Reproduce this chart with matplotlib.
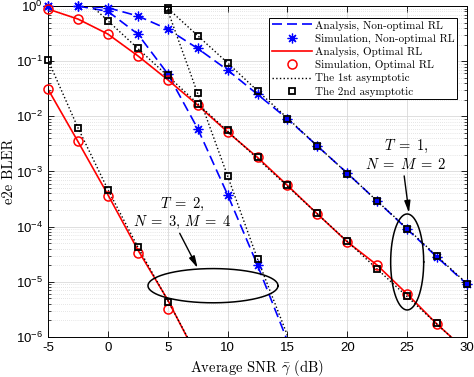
import numpy as np
import matplotlib
matplotlib.use("Agg")
import matplotlib.pyplot as plt
from matplotlib.ticker import FuncFormatter, LogLocator, NullFormatter
from matplotlib.lines import Line2D

plt.rcParams['font.family'] = 'Liberation Sans'
plt.rcParams['mathtext.fontset'] = 'cm'
plt.rcParams['axes.unicode_minus'] = False

# SNR grid (dB)
snr = [-5, -2.5, 0, 2.5, 5, 7.5, 10, 12.5, 15, 17.5, 20, 22.5, 25, 27.5, 30]

# T=1, N=M=2, non-optimal RL (analysis & simulation)
nonopt1 = [1.0, 1.0, 0.93, 0.66, 0.38, 0.17, 6.9e-2, 2.5e-2, 9.0e-3, 2.9e-3,
           9.3e-4, 2.9e-4, 9.0e-5, 2.8e-5, 9.0e-6]
# T=2, N=3, M=4, non-optimal RL
nonopt2_ana = [1.0, 1.0, 0.8, 0.31, 5.9e-2, 6.0e-3, 3.8e-4, 2.0e-5, 8.5e-7]
nonopt2_sim = [1.0, 1.0, 0.8, 0.31, 5.9e-2, 6.0e-3, 3.8e-4, 2.0e-5]
# T=1, optimal RL
opt1_ana = [0.88, 0.58, 0.31, 0.125, 4.6e-2, 1.6e-2, 5.2e-3, 1.8e-3, 5.6e-4,
            1.7e-4, 5.3e-5, 2.0e-5, 6.0e-6, 1.7e-6, 5.5e-7]
opt1_sim = opt1_ana[:14]
# T=2, optimal RL
opt2_ana = [3.1e-2, 3.5e-3, 3.8e-4, 3.8e-5, 4.7e-6, 4.2e-7]
opt2_sim = [3.1e-2, 3.5e-3, 3.6e-4, 3.3e-5, 3.2e-6]

# 1st asymptotic (dotted)
a1_opt1 = [1.7, 0.54, 0.17, 5.4e-2, 1.7e-2, 5.4e-3, 1.7e-3, 5.4e-4, 1.7e-4,
           5.4e-5, 1.7e-5, 5.4e-6, 1.7e-6, 5.4e-7]          # from -2.5 dB
a1_nonopt1 = [2.9, 0.91, 0.29, 9.3e-2, 2.9e-2, 9.3e-3, 2.9e-3, 9.3e-4, 2.9e-4,
              9.3e-5, 2.9e-5, 9.3e-6]                        # from 2.5 dB
a1_nonopt2 = [26.0, 0.83, 2.6e-2, 8.3e-4, 2.6e-5, 1.07e-6]   # from 2.5 dB
a1_opt2 = [0.105, 6.2e-3, 4.7e-4, 4.3e-5, 4.6e-6, 4.5e-7]    # from -5 dB

# 2nd asymptotic (squares)
a2_opt1 = [0.53, 0.17, 5.6e-2, 1.7e-2, 5.6e-3, 1.8e-3, 5.6e-4, 1.8e-4, 5.6e-5,
           1.7e-5, 5.6e-6, 1.8e-6]                           # from 0 dB
a2_nonopt1 = [0.91, 0.29, 9.3e-2, 2.9e-2, 9.1e-3, 2.9e-3, 9.1e-4, 2.9e-4,
              9.1e-5, 2.9e-5, 9.1e-6]                        # from 5 dB
a2_nonopt2 = [0.83, 2.6e-2, 8.3e-4, 2.6e-5]                  # from 5 dB
a2_opt2 = [0.105, 6.2e-3, 4.7e-4, 4.3e-5, 4.4e-6]            # from -5 dB


def xs(start, vals):
    i = snr.index(start)
    return snr[i:i + len(vals)]


fig = plt.figure(figsize=(4.74, 3.77), dpi=100)
ax = fig.add_axes([0.1013, 0.1061, 0.884, 0.878])

blue = '#0000ff'
red = '#ff0000'
star = (8, 2, 0)
lw = 1.2
dash = (6, 3)

# analysis, non-optimal
ax.plot(xs(-5, nonopt1), nonopt1, '--', color=blue, lw=lw, dashes=dash)
ax.plot(xs(-5, nonopt2_ana), nonopt2_ana, '--', color=blue, lw=lw, dashes=dash)
# analysis, optimal
ax.plot(xs(-5, opt1_ana), opt1_ana, '-', color=red, lw=lw)
ax.plot(xs(-5, opt2_ana), opt2_ana, '-', color=red, lw=lw)
# 1st asymptotic
for start, vals in [(-2.5, a1_opt1), (2.5, a1_nonopt1), (2.5, a1_nonopt2), (-5, a1_opt2)]:
    ax.plot(xs(start, vals), vals, ':', color='k', lw=1.0)

mk = dict(linestyle='none', clip_on=False, zorder=4)
star_kw = dict(marker=star, ms=7, mew=0.9, mec=blue)
circ_kw = dict(marker='o', ms=6.5, mew=1.1, mec=red, mfc='none')
sq_kw = dict(marker='s', ms=5, mew=1.3, mec='k', mfc='none')
# simulation markers
ax.plot(xs(-5, nonopt1), nonopt1, **star_kw, **mk)
ax.plot(xs(-5, nonopt2_sim), nonopt2_sim, **star_kw, **mk)
ax.plot(xs(-5, opt1_sim), opt1_sim, **circ_kw, **mk)
ax.plot(xs(-5, opt2_sim), opt2_sim, **circ_kw, **mk)
# 2nd asymptotic markers
for start, vals in [(0, a2_opt1), (5, a2_nonopt1), (5, a2_nonopt2), (-5, a2_opt2)]:
    ax.plot(xs(start, vals), vals, **sq_kw, **mk)

ax.set_yscale('log')
ax.set_xlim(-5, 30)
ax.set_ylim(1e-6, 1)
ax.set_xticks([-5, 0, 5, 10, 15, 20, 25, 30])
ax.yaxis.set_major_locator(LogLocator(base=10, numticks=10))
ax.yaxis.set_minor_locator(LogLocator(base=10, subs=np.arange(2, 10), numticks=20))
ax.yaxis.set_minor_formatter(NullFormatter())
ax.yaxis.set_major_formatter(FuncFormatter(
    lambda v, p: r'$\mathregular{10^{%d}}$' % round(np.log10(v))))
ax.tick_params(which='both', direction='in', top=True, right=True, labelsize=9.5)
ax.tick_params(which='major', length=4, width=0.6)
ax.tick_params(which='minor', length=2, width=0.5)
ax.grid(which='major', color='#d9d9d9', lw=0.6, ls='-')
ax.grid(which='minor', axis='y', color='#cfcfcf', lw=0.5, ls=(0, (1, 2)))
ax.set_axisbelow(True)
for s in ax.spines.values():
    s.set_linewidth(0.7)

ax.set_xlabel(r'Average SNR $\bar{\gamma}$ (dB)', family='cmr10', fontsize=10.5, labelpad=3)
ax.set_ylabel('e2e BLER', family='cmr10', fontsize=10.5, labelpad=0)

# ellipses and annotations
t = np.linspace(0, 2 * np.pi, 300)
ax.plot(8.78 + 5.43 * np.cos(t), 10 ** (-5.07 + 0.31 * np.sin(t)), 'k-', lw=1.1)
ax.plot(25.0 + 1.38 * np.cos(t), 10 ** (-4.64 + 0.87 * np.sin(t)), 'k-', lw=1.1)

arrow = dict(arrowstyle='-|>,head_width=0.18,head_length=0.7', color='k', lw=1.0,
             shrinkA=0, shrinkB=0)
ax.annotate('', xy=(7.5, 10 ** -4.75), xytext=(6.0, 10 ** -4.12), arrowprops=arrow)
ax.annotate('', xy=(25.15, 10 ** -3.75), xytext=(24.75, 10 ** -3.08), arrowprops=arrow)
txt = dict(ha='center', va='center', fontsize=10.5)
ax.text(6.2, 10 ** -3.6, '$T\\;=\\;2,$', **txt)
ax.text(6.2, 10 ** -3.93, '$N\\;=\\;3,\\,M\\;=\\;4$', **txt)
ax.text(24.9, 10 ** -2.54, '$T\\;=\\;1,$', **txt)
ax.text(24.9, 10 ** -2.88, '$N\\;=\\;M\\;=\\;2$', **txt)

handles = [
    Line2D([], [], ls='--', color=blue, lw=lw, dashes=dash),
    Line2D([], [], ls='none', **star_kw),
    Line2D([], [], ls='-', color=red, lw=lw),
    Line2D([], [], ls='none', **circ_kw),
    Line2D([], [], ls=':', color='k', lw=1.0),
    Line2D([], [], ls='none', **sq_kw),
]
labels = ['Analysis, Non-optimal RL', 'Simulation, Non-optimal RL',
          'Analysis, Optimal RL', 'Simulation, Optimal RL',
          'The 1st asymptotic', 'The 2nd asymptotic']
leg = ax.legend(handles, labels, loc='upper right', bbox_to_anchor=(0.977, 0.965),
                borderaxespad=0, prop=dict(family='cmr10', size=8),
                handlelength=3.6, handletextpad=0.3, labelspacing=0.28,
                borderpad=0.25, fancybox=False, framealpha=1, edgecolor='k')
leg.get_frame().set_linewidth(0.7)
leg.set_zorder(10)

fig.savefig('out.png', dpi=100)
